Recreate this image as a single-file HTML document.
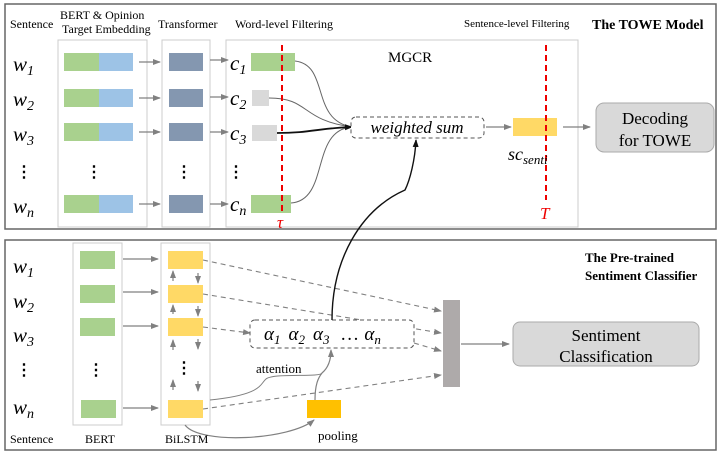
<!DOCTYPE html>
<html><head><style>
body{margin:0;background:#fff;}
svg{display:block;font-family:"Liberation Serif",serif;}
.it{font-family:"Liberation Serif",serif;font-style:italic;}
</style></head><body>
<svg width="720" height="455" viewBox="0 0 720 455" xmlns="http://www.w3.org/2000/svg">
<defs>
<marker id="a" markerWidth="8" markerHeight="8" refX="7" refY="4" orient="auto" markerUnits="userSpaceOnUse"><path d="M0,1 L8,4 L0,7z" fill="#808080"/></marker>
<marker id="b" markerWidth="8" markerHeight="8" refX="7" refY="4" orient="auto" markerUnits="userSpaceOnUse"><path d="M0,1 L8,4 L0,7z" fill="#111"/></marker>
</defs>
<rect x="5" y="4" width="711" height="225" fill="none" stroke="#666" stroke-width="1.5"/>
<text x="10" y="28" font-size="12">Sentence</text>
<text x="60" y="19" font-size="12">BERT &amp; Opinion</text>
<text x="62" y="33" font-size="12">Target Embedding</text>
<text x="158" y="28" font-size="12">Transformer</text>
<text x="235" y="28" font-size="12">Word-level Filtering</text>
<text x="464" y="27" font-size="11">Sentence-level Filtering</text>
<text x="592" y="29" font-size="14" font-weight="bold">The TOWE Model</text>
<rect x="58" y="40" width="89" height="187" fill="#fff" stroke="#ccc"/>
<rect x="162" y="40" width="48" height="187" fill="#fff" stroke="#ccc"/>
<rect x="226" y="40" width="352" height="187" fill="#fff" stroke="#ccc"/>
<text x="388" y="62" font-size="15">MGCR</text>
<g font-size="21" class="it">
<text x="13" y="71">w<tspan font-size="14" dy="4">1</tspan></text>
<text x="13" y="106">w<tspan font-size="14" dy="4">2</tspan></text>
<text x="13" y="141">w<tspan font-size="14" dy="4">3</tspan></text>
<text x="13" y="213">w<tspan font-size="14" dy="4">n</tspan></text>
<text x="230" y="70">c<tspan font-size="14" dy="4">1</tspan></text>
<text x="230" y="105">c<tspan font-size="14" dy="4">2</tspan></text>
<text x="230" y="140">c<tspan font-size="14" dy="4">3</tspan></text>
<text x="230" y="211">c<tspan font-size="14" dy="4">n</tspan></text>
</g>
<g font-size="16" font-weight="bold" text-anchor="middle">
<text x="24" y="177">⋮</text><text x="94" y="177">⋮</text><text x="184" y="177">⋮</text><text x="236" y="177">⋮</text>
</g>
<g>
<rect x="64" y="53" width="35" height="18" fill="#a9d18e"/><rect x="99" y="53" width="34" height="18" fill="#9dc3e6"/>
<rect x="64" y="89" width="35" height="18" fill="#a9d18e"/><rect x="99" y="89" width="34" height="18" fill="#9dc3e6"/>
<rect x="64" y="123" width="35" height="18" fill="#a9d18e"/><rect x="99" y="123" width="34" height="18" fill="#9dc3e6"/>
<rect x="64" y="195" width="35" height="18" fill="#a9d18e"/><rect x="99" y="195" width="34" height="18" fill="#9dc3e6"/>
</g>
<g fill="#8497b0">
<rect x="169" y="53" width="34" height="18"/><rect x="169" y="89" width="34" height="18"/><rect x="169" y="123" width="34" height="18"/><rect x="169" y="195" width="34" height="18"/>
</g>
<g stroke="#808080" stroke-width="1.2" marker-end="url(#a)">
<line x1="139" y1="62" x2="160" y2="62"/><line x1="139" y1="98" x2="160" y2="98"/><line x1="139" y1="132" x2="160" y2="132"/><line x1="139" y1="204" x2="160" y2="204"/>
<line x1="210" y1="60" x2="228" y2="60"/><line x1="210" y1="97" x2="228" y2="97"/><line x1="210" y1="132" x2="228" y2="132"/><line x1="210" y1="204" x2="228" y2="204"/>
</g>
<rect x="251" y="53" width="44" height="18" fill="#a9d18e"/>
<rect x="252" y="90" width="17" height="16" fill="#d9d9d9"/>
<rect x="252" y="125" width="25" height="16" fill="#d9d9d9"/>
<rect x="251" y="195" width="40" height="18" fill="#a9d18e"/>
<g fill="none" stroke="#666" stroke-width="1">
<path d="M295,61 C330,65 310,120 352,127"/>
<path d="M269,98 C310,98 300,120 352,127"/>
<path d="M291,203 C330,200 310,130 352,127"/>
</g>
<path d="M277,133 C310,133 320,128 352,127" fill="none" stroke="#111" stroke-width="1.8" marker-end="url(#b)"/>
<line x1="282" y1="45" x2="282" y2="215" stroke="#e00" stroke-width="2" stroke-dasharray="6,4"/>
<text x="277" y="228" font-size="17" fill="#e00" class="it">τ</text>
<rect x="351" y="117" width="133" height="21" rx="5" fill="#fff" stroke="#555" stroke-dasharray="4,3"/>
<text x="417" y="133" font-size="17" class="it" text-anchor="middle">weighted sum</text>
<line x1="486" y1="127" x2="511" y2="127" stroke="#808080" stroke-width="1.2" marker-end="url(#a)"/>
<rect x="513" y="118" width="44" height="18" fill="#ffd966"/>
<line x1="546" y1="45" x2="546" y2="200" stroke="#e00" stroke-width="2" stroke-dasharray="6,4"/>
<text x="540" y="219" font-size="17" fill="#e00" class="it">T</text>
<text x="508" y="160" font-size="18" class="it">sc<tspan font-size="13" dy="4">senti</tspan></text>
<line x1="563" y1="127" x2="590" y2="127" stroke="#808080" stroke-width="1.2" marker-end="url(#a)"/>
<rect x="596" y="103" width="118" height="49" rx="8" fill="#d9d9d9" stroke="#aaa"/>
<text x="655" y="124" font-size="17" text-anchor="middle">Decoding</text>
<text x="655" y="146" font-size="17" text-anchor="middle">for TOWE</text>

<rect x="5" y="240" width="711" height="210" fill="none" stroke="#666" stroke-width="1.5"/>
<text x="585" y="262" font-size="13" font-weight="bold">The Pre-trained</text>
<text x="585" y="280" font-size="13" font-weight="bold">Sentiment Classifier</text>
<rect x="73" y="243" width="49" height="182" fill="#fff" stroke="#ccc"/>
<rect x="161" y="243" width="49" height="182" fill="#fff" stroke="#ccc"/>
<g font-size="21" class="it">
<text x="13" y="273">w<tspan font-size="14" dy="4">1</tspan></text>
<text x="13" y="308">w<tspan font-size="14" dy="4">2</tspan></text>
<text x="13" y="342">w<tspan font-size="14" dy="4">3</tspan></text>
<text x="13" y="414">w<tspan font-size="14" dy="4">n</tspan></text>
</g>
<g font-size="16" font-weight="bold" text-anchor="middle">
<text x="24" y="375">⋮</text><text x="96" y="375">⋮</text><text x="184" y="373">⋮</text>
</g>
<g fill="#a9d18e">
<rect x="80" y="251" width="35" height="18"/><rect x="80" y="285" width="35" height="18"/><rect x="80" y="318" width="35" height="18"/><rect x="81" y="400" width="35" height="18"/>
</g>
<g fill="#ffd966">
<rect x="168" y="251" width="35" height="18"/><rect x="168" y="285" width="35" height="18"/><rect x="168" y="318" width="35" height="18"/><rect x="168" y="400" width="35" height="18"/>
</g>
<g stroke="#808080" stroke-width="1.2" marker-end="url(#a)">
<line x1="123" y1="259" x2="158" y2="259"/><line x1="123" y1="292" x2="158" y2="292"/><line x1="123" y1="326" x2="158" y2="326"/><line x1="123" y1="408" x2="158" y2="408"/>
<line x1="173" y1="281" x2="173" y2="271"/><line x1="173" y1="314" x2="173" y2="305"/><line x1="173" y1="350" x2="173" y2="340"/><line x1="173" y1="390" x2="173" y2="380"/>
<line x1="198" y1="273" x2="198" y2="283"/><line x1="198" y1="306" x2="198" y2="316"/><line x1="198" y1="339" x2="198" y2="349"/><line x1="198" y1="381" x2="198" y2="391"/>
</g>
<g stroke="#808080" stroke-width="1.1" stroke-dasharray="5,4" marker-end="url(#a)" fill="none">
<line x1="203" y1="260" x2="441" y2="311"/>
<line x1="203" y1="294" x2="441" y2="333"/>
<line x1="203" y1="327" x2="250" y2="333"/>
<line x1="414" y1="343" x2="441" y2="351"/>
<line x1="203" y1="409" x2="441" y2="375"/>
</g>
<rect x="250" y="320" width="164" height="28" rx="5" fill="#fff" stroke="#555" stroke-dasharray="4,3"/>
<text x="264" y="340" font-size="19" class="it">α<tspan font-size="13" dy="4">1</tspan><tspan dy="-4" dx="8">α</tspan><tspan font-size="13" dy="4">2</tspan><tspan dy="-4" dx="8">α</tspan><tspan font-size="13" dy="4">3</tspan><tspan dy="-4" dx="12">…</tspan><tspan dx="6">α</tspan><tspan font-size="13" dy="4">n</tspan></text>
<rect x="443" y="300" width="17" height="87" fill="#aeaaaa"/>
<line x1="461" y1="344" x2="509" y2="344" stroke="#808080" stroke-width="1.2" marker-end="url(#a)"/>
<rect x="513" y="322" width="186" height="44" rx="7" fill="#d9d9d9" stroke="#aaa"/>
<text x="606" y="341" font-size="17" text-anchor="middle">Sentiment</text>
<text x="606" y="362" font-size="17" text-anchor="middle">Classification</text>
<rect x="307" y="400" width="34" height="18" fill="#ffc000"/>
<text x="318" y="440" font-size="13">pooling</text>
<text x="256" y="373" font-size="13">attention</text>
<path d="M210,400 C260,395 260,385 265,380 C270,372 320,378 322,373" fill="none" stroke="#808080" stroke-width="1"/>
<path d="M315,400 C315,385 318,378 322,373 C328,368 331,360 331,350" fill="none" stroke="#808080" stroke-width="1.2" marker-end="url(#a)"/>
<path d="M185,425 C200,445 290,440 314,420" fill="none" stroke="#808080" stroke-width="1.2" marker-end="url(#a)"/>
<path d="M332,320 C332,260 360,210 405,190 C410,180 415,160 416,140" fill="none" stroke="#111" stroke-width="1.4" marker-end="url(#b)"/>
<text x="10" y="443" font-size="12">Sentence</text>
<text x="85" y="443" font-size="12">BERT</text>
<text x="165" y="443" font-size="12">BiLSTM</text>
</svg>
</body></html>
